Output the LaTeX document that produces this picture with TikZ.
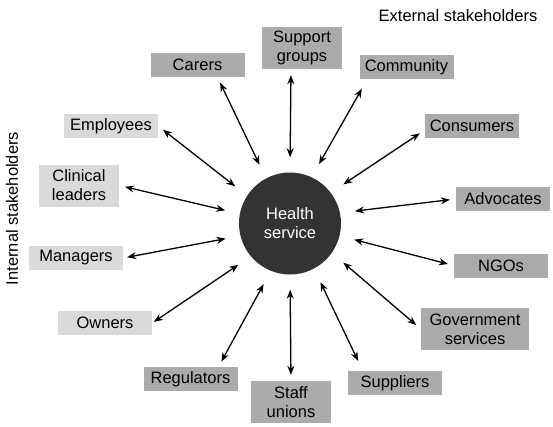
\documentclass[tikz,border=0pt]{standalone}
\usepackage{fontspec}
\setmainfont{Liberation Sans}
\usetikzlibrary{arrows.meta}

\definecolor{hubgray}{HTML}{333333}
\definecolor{ingray}{HTML}{DADADA}
\definecolor{exgray}{HTML}{ABABAB}

\tikzstyle{hub}   = [circle, minimum size=102pt, inner sep=0pt, fill=hubgray, text=white, align=center]
\tikzstyle{inbox} = [rectangle, minimum width=94pt, minimum height=24pt, inner sep=2pt, fill=ingray, align=center]
\tikzstyle{exbox} = [rectangle, minimum width=94pt, minimum height=24pt, inner sep=2pt, fill=exgray, align=center]
\tikzstyle{twoline} = [minimum width=80pt, minimum height=42pt]
\tikzstyle{link}  = [{Stealth[length=9pt, width=7pt]}-{Stealth[length=9pt, width=7pt]}, line width=1.3pt, shorten <=6pt, shorten >=15pt]

\begin{document}
\begin{tikzpicture}[x=1pt, y=-1pt, font=\fontsize{16.5}{19}\selectfont]
        \useasboundingbox (0,0) rectangle (553,426);
        \node (hs)         [hub]            at (290,223.5) {Health\\service};
        \node (carers)     [exbox]          at (197.5,65)  {Carers};
        \node (support)    [exbox, twoline] at (302,48)    {Support\\groups};
        \node (community)  [exbox]          at (406.5,67)  {Community};
        \node (consumers)  [exbox]          at (472,126)   {Consumers};
        \node (advocates)  [exbox]          at (503,199)   {Advocates};
        \node (ngos)       [exbox]          at (501,265.5) {NGOs};
        \node (gov)        [exbox, twoline, minimum width=108pt] at (475,329) {Government\\services};
        \node (suppliers)  [exbox]          at (395,383)   {Suppliers};
        \node (staff)      [exbox, twoline] at (291,402)   {Staff\\unions};
        \node (regulators) [exbox]          at (190.5,379) {Regulators};
        \node (owners)     [inbox]          at (105,323)   {Owners};
        \node (managers)   [inbox]          at (76,258)    {Managers};
        \node (clinical)   [inbox, twoline] at (79,185.5)  {Clinical\\leaders};
        \node (employees)  [inbox]          at (111,126)   {Employees};
        \node (external)   []               at (458,16)    {External stakeholders};
        \node (internal)   [rotate=90]      at (12,208.5)  {Internal stakeholders};
        \draw[link] ([xshift=20pt]carers.south)               -- (hs.118);
        \draw[link] ([xshift=-11pt]support.south)             -- (hs.90);
        \draw[link, shorten <=11pt] ([xshift=8pt]community.south west) -- (hs.65);
        \draw[link] ([yshift=-4pt]consumers.west)             -- (hs.37);
        \draw[link] (advocates.west)                          -- (hs.12);
        \draw[link] (ngos.west)                               -- (hs.-14);
        \draw[link] (gov.west)                                -- (hs.-35);
        \draw[link, shorten <=11pt] ([xshift=15pt]suppliers.north west) -- (hs.-62);
        \draw[link] (staff.north)                             -- (hs.-90);
        \draw[link] ([xshift=28pt]regulators.north)           -- (hs.-112);
        \draw[link, shorten <=2pt] (owners.east)              -- (hs.-140);
        \draw[link, shorten <=4pt] (managers.east)            -- (hs.-166);
        \draw[link] (clinical.east)                           -- (hs.169);
        \draw[link] (employees.east)                          -- (hs.147);
    \end{tikzpicture}
\end{document}
